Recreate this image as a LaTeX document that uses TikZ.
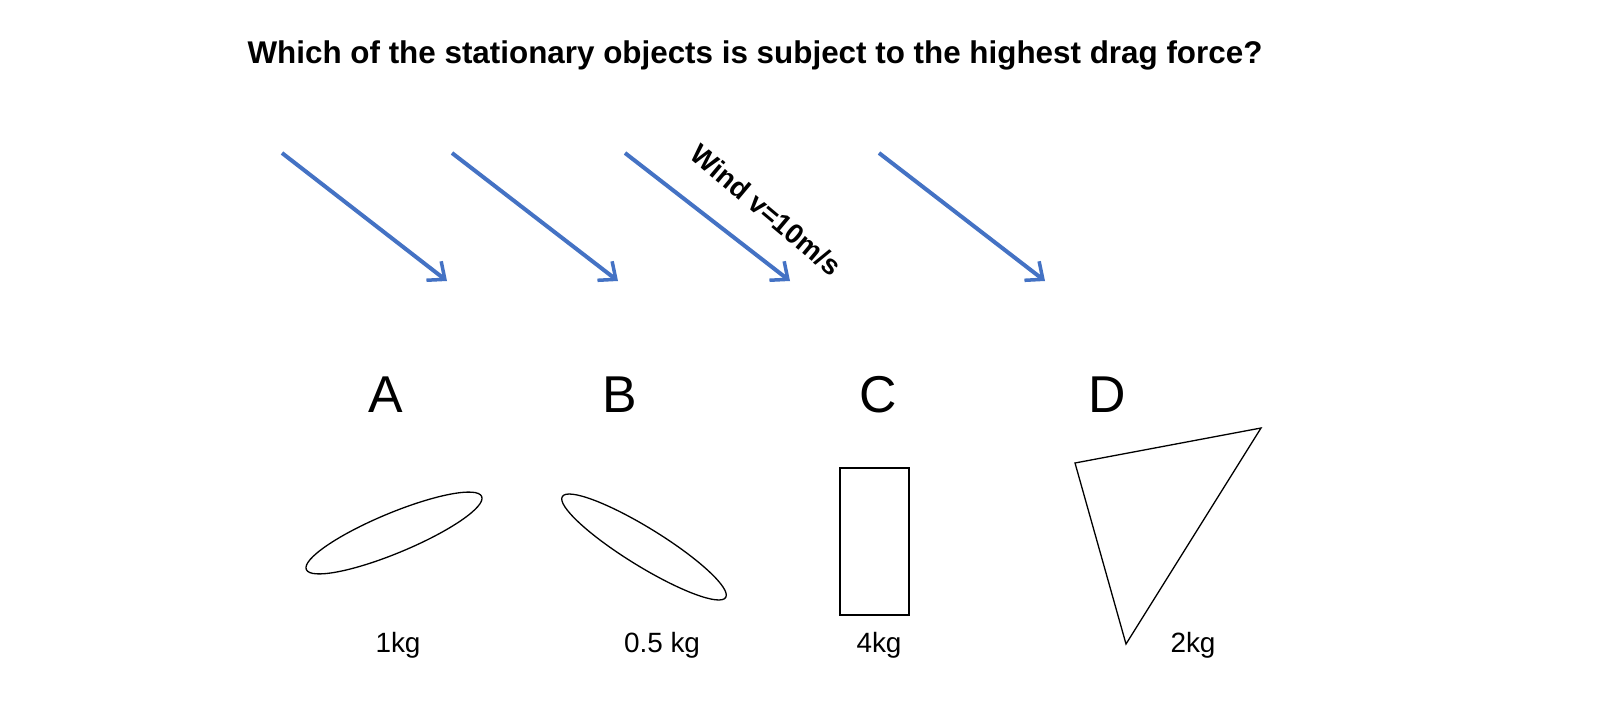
\documentclass[tikz,border=0pt]{standalone}
\usepackage{fontspec}
\setmainfont{Liberation Sans}
\usetikzlibrary{arrows.meta}
\definecolor{windblue}{HTML}{4472C4}
\begin{document}
\begin{tikzpicture}[x=1bp,y=1bp,
  wind/.style={draw=windblue,line width=4bp,-{Straight Barb[length=14bp,width=24bp,line width=3.5bp]}},
  letter/.style={font=\fontsize{52}{58}\selectfont},
  mass/.style={font=\fontsize{28}{32}\selectfont},
  outline/.style={draw=black,line width=1.3bp}]
\fill[white] (0,0) rectangle (1620,-725);
\node[font=\bfseries\fontsize{31.5}{36}\selectfont] (title) at (755,-55) {Which of the stationary objects is subject to the highest drag force?};
\coordinate (a1) at (282,-153); \coordinate (a2) at (447,-281);
\coordinate (b1) at (452,-153); \coordinate (b2) at (618,-281);
\coordinate (c1) at (625,-153); \coordinate (c2) at (790,-281);
\coordinate (d1) at (879,-153); \coordinate (d2) at (1045,-281);
\draw[wind] (a1) -- (a2);
\draw[wind] (b1) -- (b2);
\draw[wind] (c1) -- (c2);
\draw[wind] (d1) -- (d2);
\node[font=\bfseries\fontsize{28}{32}\selectfont,rotate=-40] (windlbl) at (766,-210) {Wind v=10m/s};
\node[letter] (A) at (386,-395) {A};
\node[letter] (B) at (620,-395) {B};
\node[letter] (C) at (878,-395) {C};
\node[letter] (D) at (1107,-395) {D};
\draw[outline,rotate around={22.6:(394,-533)}] (394,-533) ellipse (95 and 20);
\draw[outline,rotate around={-31.7:(644,-547)}] (644,-547) ellipse (96 and 19);
\draw[outline] (840,-468) rectangle (909,-615);
\draw[outline] (1075,-463) -- (1261,-428) -- (1126,-644) -- cycle;
\node[mass] (m1) at (398,-645) {1kg};
\node[mass] (m2) at (662,-645) {0.5 kg};
\node[mass] (m3) at (879,-645) {4kg};
\node[mass] (m4) at (1193,-645) {2kg};
\pgfresetboundingbox
\useasboundingbox (0,0) rectangle (1620,-725);
\end{tikzpicture}
\end{document}
